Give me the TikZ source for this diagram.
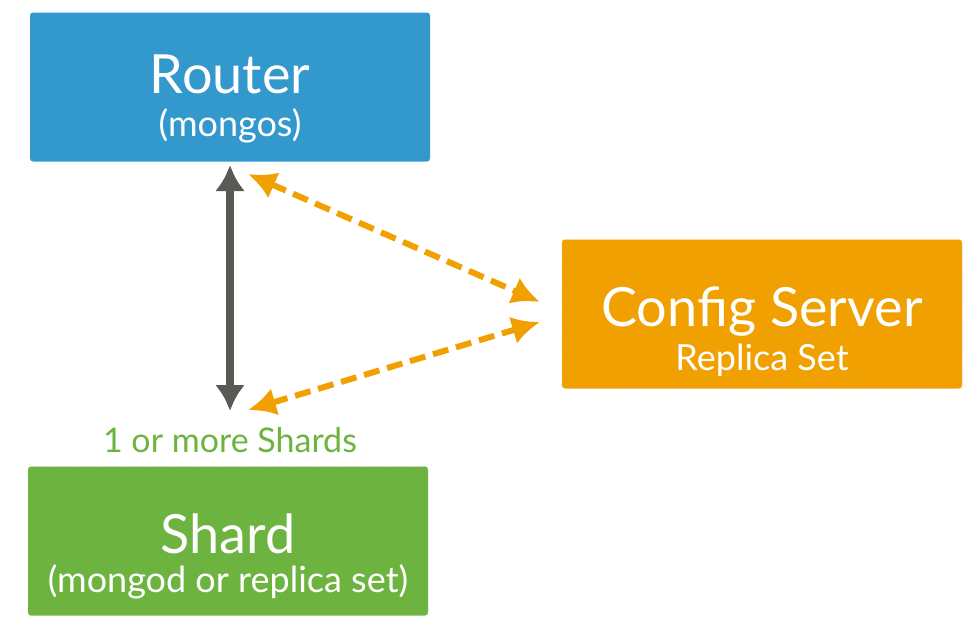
\documentclass[tikz,border=0pt]{standalone}
\usepackage{fontspec}
\setmainfont{Lato}
\usetikzlibrary{arrows.meta}
\definecolor{rblue}{HTML}{3399CC}
\definecolor{corange}{HTML}{F0A000}
\definecolor{sgreen}{HTML}{6DB33F}
\definecolor{agrey}{HTML}{5A5A55}
\begin{document}
\begin{tikzpicture}[x=1pt,y=-1pt,
  box/.style={rounded corners=3pt,minimum width=400pt,minimum height=149pt,text=white,align=center,inner sep=0pt},
  big/.style={font=\fontsize{54}{58}\selectfont},
  sub/.style={font=\fontsize{36}{40}\selectfont},
  oarrow/.style={corange,line width=6pt,dash pattern=on 16pt off 8pt,{Latex[length=28pt,width=28pt]}-{Latex[length=28pt,width=28pt]}}]
\useasboundingbox (0,0) rectangle (980,638);
\node[box,fill=rblue] (router) at (230,87) {};
\node[box,fill=corange,draw=corange!60,dashed] (config) at (762,314) {};
\node[box,fill=sgreen,draw=sgreen!60,dashed] (shard) at (228,541) {};
\node[big,text=white] (rt) at (230,74) {Router};
\node[sub,text=white] (rs) at (230,126) {(mongos)};
\node[big,text=white] (ct) at (762,312) {Config Server};
\node[sub,text=white] (cs) at (762,360) {Replica Set};
\node[big,text=white] (st) at (228,534) {Shard};
\node[sub,text=white] (ss) at (228,582) {(mongod or replica set)};
\node[text=sgreen,font=\fontsize{34}{38}\selectfont] (lbl) at (230,440) {1 or more Shards};
\coordinate (gt) at (230,165);
\coordinate (gb) at (230,411);
\draw[agrey,line width=8pt,{Latex[length=26pt,width=30pt]}-{Latex[length=26pt,width=30pt]}] (gt) -- (gb);
\coordinate (o1) at (248,174);
\coordinate (o2) at (540,302);
\coordinate (o3) at (248,410);
\coordinate (o4) at (540,322);
\draw[oarrow] (o1) -- (o2);
\draw[oarrow] (o3) -- (o4);
\end{tikzpicture}
\end{document}
